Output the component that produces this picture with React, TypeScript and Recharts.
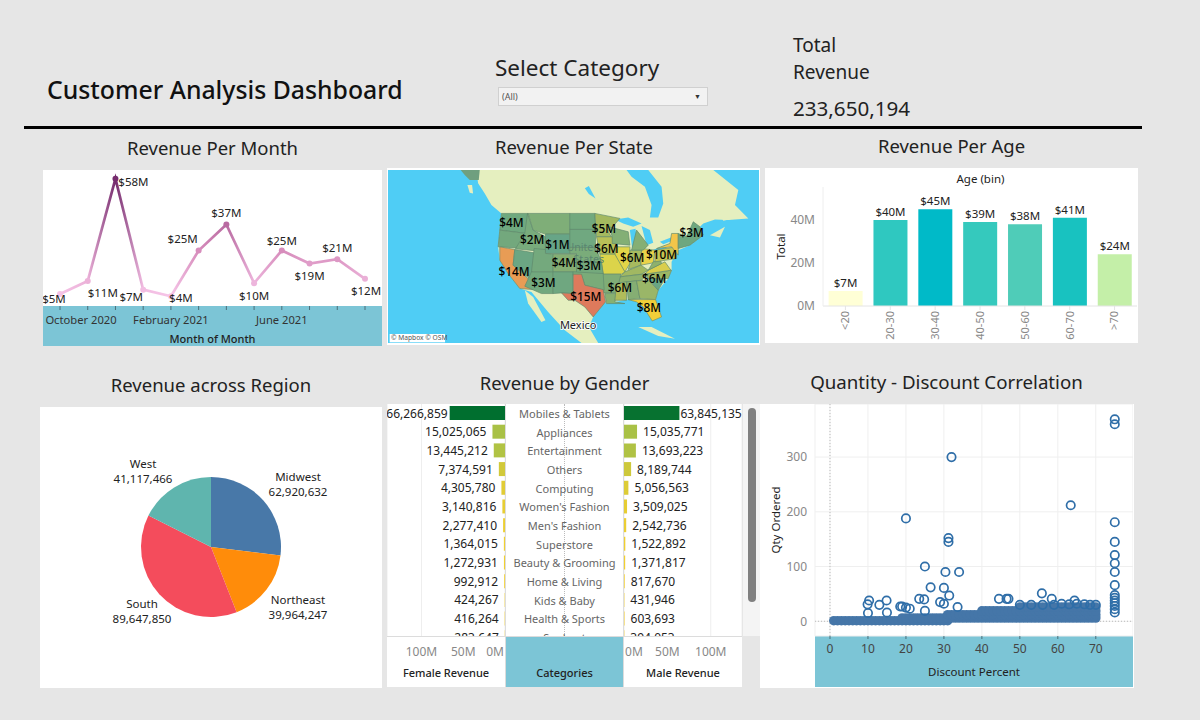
import {
  LineChart,
  Line,
  BarChart,
  Bar,
  PieChart,
  Pie,
  Cell,
  ScatterChart,
  Scatter,
  XAxis,
  YAxis,
  CartesianGrid,
  ReferenceLine,
  LabelList,
} from 'recharts'

const months = ['Oct 2020', 'Nov 2020', 'Dec 2020', 'Jan 2021', 'Feb 2021', 'Mar 2021', 'Apr 2021', 'May 2021', 'Jun 2021', 'Jul 2021', 'Aug 2021', 'Sep 2021']
const monthRevenue = [5, 11, 58, 7, 4, 25, 37, 10, 25, 19, 21, 12]
const monthTickLabels = ['October 2020', '', '', '', 'February 2021', '', '', '', 'June 2021', '', '', '']

const stateRevenue = [4, 2, 1, 5, 6, 6, 10, 3, 4, 3, 14, 3, 15, 6, 6, 8]
const stateLon = [-120.5, -114.3, -106.7, -92.8, -92, -84.3, -75.5, -66.5, -104.8, -97.3, -119.7, -110.9, -98.2, -88, -77.7, -79.3]
const stateLat = [47.5, 43.65, 42.6, 46.1, 41.65, 39.6, 40.3, 45.3, 38.5, 37.9, 36.5, 34.1, 31, 33.1, 35, 28.5]

const ageBins = ['<20', '20-30', '30-40', '40-50', '50-60', '60-70', '>70']
const ageRevenue = [7, 40, 45, 39, 38, 41, 24]
const ageTicks = [0, 20, 40]

const regions = ['Midwest', 'Northeast', 'South', 'West']
const regionRevenue = [62920632, 39964247, 89647850, 41117466]

const categories = ['Mobiles & Tablets', 'Appliances', 'Entertainment', 'Others', 'Computing', "Women's Fashion", "Men's Fashion", 'Superstore', 'Beauty & Grooming', 'Home & Living', 'Kids & Baby', 'Health & Sports', 'Soghaat']
const femaleRevenue = [66266859, 15025065, 13445212, 7374591, 4305780, 3140816, 2277410, 1364015, 1272931, 992912, 424267, 416264, 283647]
const maleRevenue = [63845135, 15035771, 13693223, 8189744, 5056563, 3509025, 2542736, 1522892, 1371817, 817670, 431946, 603693, 394053]
const genderTicks = [0, 50000000, 100000000]

// single orders that stand out from the pile
const outlierDiscount = [32, 20, 63.4, 75, 75, 75, 75, 75, 75, 75, 75, 75, 75, 75, 75, 75, 75, 75, 31.2, 31.2, 25, 30.4, 34, 26.5, 30, 31.4, 23.5, 24.8, 29, 30, 33.6, 25, 10.3, 9.9, 13, 14.9, 10, 15, 18.5, 19, 20, 21, 44.5, 46.5, 47, 55.8, 58.4, 64.4, 50, 53, 56, 59, 61, 63, 65, 67, 68.5, 70]
const outlierQty = [300, 188, 212, 369, 360, 181, 145, 121, 106, 90, 66, 48, 43, 38, 33, 28, 22, 16, 152, 145, 100, 90, 90, 62, 61, 47, 41, 40, 35, 32, 26, 19, 38, 31, 30, 38, 15, 16, 27, 27, 25, 23, 41, 41, 41, 51, 41, 38, 30, 30, 30, 30, 32, 31, 32, 31, 30, 30]

// the solid band along the bottom, where circles overlap completely
const denseDiscount = [
  1, 2, 3, 4, 5, 6, 7, 8, 9, 10, 11, 12, 13, 14, 15, 16, 17, 18, 19, 20, 21, 22, 23, 24, 25, 26, 27, 28, 29, 30, 31,
  19, 20, 21, 22, 23, 24, 25, 26, 27, 28, 29, 30, 31, 32, 33, 34, 35, 36, 37, 38, 39, 40, 41, 42, 43, 44, 45, 46, 47, 48, 49, 50, 51, 52, 53, 54, 55, 56, 57, 58, 59, 60, 61, 62, 63, 64, 65, 66, 67, 68, 69, 70,
  31, 32, 33, 34, 35, 36, 37, 38, 39, 40, 41, 42, 43, 44, 45, 46, 47, 48, 49, 50, 51, 52, 53, 54, 55, 56, 57, 58, 59, 60, 61, 62, 63, 64, 65, 66, 67, 68, 69, 70,
  40, 41, 42, 43, 44, 45, 46, 47, 48, 49, 50, 51, 52, 53, 54, 55, 56, 57, 58, 59, 60, 61, 62, 63, 64, 65, 66, 67, 68, 69, 70,
  50, 51, 52, 53, 54, 55, 56, 57, 58, 59, 60, 61, 62, 63, 64, 65, 66, 67, 68, 69, 70,
]
const denseQty = [
  1, 1, 1, 1, 1, 1, 1, 1, 1, 1, 1, 1, 1, 1, 1, 1, 1, 1, 1, 1, 1, 1, 1, 1, 1, 1, 1, 1, 1, 1, 1,
  6, 6, 6, 6, 6, 6, 6, 6, 6, 6, 6, 6, 6, 6, 6, 6, 6, 6, 6, 6, 6, 6, 6, 6, 6, 6, 6, 6, 6, 6, 6, 6, 6, 6, 6, 6, 6, 6, 6, 6, 6, 6, 6, 6, 6, 6, 6, 6, 6, 6, 6, 6,
  12, 12, 12, 12, 12, 12, 12, 12, 12, 12, 12, 12, 12, 12, 12, 12, 12, 12, 12, 12, 12, 12, 12, 12, 12, 12, 12, 12, 12, 12, 12, 12, 12, 12, 12, 12, 12, 12, 12, 12,
  19, 19, 19, 19, 19, 19, 19, 19, 19, 19, 19, 19, 19, 19, 19, 19, 19, 19, 19, 19, 19, 19, 19, 19, 19, 19, 19, 19, 19, 19, 19,
  26, 26, 26, 26, 26, 26, 26, 26, 26, 26, 26, 26, 26, 26, 26, 26, 26, 26, 26, 26, 26,
]
const discountTicks = [0, 10, 20, 30, 40, 50, 60, 70]
const qtyTicks = [0, 100, 200, 300]

const monthData = months.map((m, i) => ({ month: m, revenue: monthRevenue[i], tick: monthTickLabels[i] }))
const stateData = stateRevenue.map((r, i) => ({ lon: stateLon[i], lat: stateLat[i], revenue: r }))
const ageData = ageBins.map((b, i) => ({ bin: b, revenue: ageRevenue[i] }))
const regionData = regions.map((r, i) => ({ name: r, value: regionRevenue[i] }))
const genderData = categories.map((c, i) => ({ category: c, female: femaleRevenue[i], male: maleRevenue[i] }))
const outlierData = outlierDiscount.map((d, i) => ({ discount: d, qty: outlierQty[i] }))
const denseData = denseDiscount.map((d, i) => ({ discount: d, qty: denseQty[i] }))

const BAND = '#7cc5d6'
const INK = '#222'
const TICK = '#888'
const REGION_COLORS = ['#4878a8', '#ff8c0a', '#f44c5c', '#5fb5ae']
const AGE_COLORS = ['#ffffd6', '#2fc8c0', '#00bac8', '#35c9bd', '#4fccb8', '#18c2c0', '#c4efa8']
const PIE_LABEL_DELTA = [[87, -63], [87, 60], [-69, 64], [-68, -76]]

function mix(stops: [number, string][], v: number) {
  let i = 0
  while (i < stops.length - 2 && v > stops[i + 1][0]) i++
  const [a, ca] = stops[i]
  const [b, cb] = stops[i + 1]
  const t = Math.max(0, Math.min(1, (v - a) / (b - a)))
  const ch = (c: string, k: number) => parseInt(c.slice(k, k + 2), 16)
  const out = [1, 3, 5].map((k) => Math.round(ch(ca, k) + (ch(cb, k) - ch(ca, k)) * t))
  return `rgb(${out.join(',')})`
}
const monthColor = (v: number) => mix([[4, '#f6c5e8'], [30, '#cf80b2'], [58, '#762c6e']], v)
const genderColor = (v: number) => mix([[0, '#f8d12f'], [15000000, '#a9c146'], [66000000, '#006f2f']], v)

// basemap outlines, traced in pixels of a 3x crop of the map
const LAND = '275,120 985,120 1060,180 1050,225 1090,265 1030,270 990,268 955,280 945,290 955,315 915,345 880,360 860,395 860,420 850,445 820,480 812,508 830,560 802,572 775,530 755,515 730,508 665,520 662,515 625,560 612,590 640,638 590,638 540,600 490,545 440,485 405,475 370,430 345,390 340,350 345,300 350,250 320,225 300,190 280,160'
const WATER = [
  '725,120 790,120 830,170 835,220 820,262 795,262 800,225 780,170 740,140',
  '600,175 612,168 632,205 612,192',
  '690,268 730,262 770,280 745,290 715,280',
  '735,300 752,296 758,345 742,355',
  '770,288 795,300 805,338 785,345',
  '790,365 840,345 850,348 810,372',
  '825,335 868,318 872,328 835,342',
]
const EXTRA_LAND = [
  '420,480 445,500 482,570 470,575 430,520',
  '975,315 1020,290 1005,322',
  '1000,245 1045,240 1060,262 1015,272',
  '760,590 800,590 870,625 820,617',
  '248,165 262,165 265,190 255,188',
]
const STATE_GREEN = '#6fa97f'
const STATES: [string, string][] = [
  ['350,250 430,250 425,310 345,300', STATE_GREEN],
  ['345,300 425,310 420,355 340,350', '#73a87d'],
  ['428,250 445,300 482,320 482,365 392,356 420,310', '#78ab7c'],
  ['430,250 555,250 555,312 482,312 445,300', '#7fae78'],
  ['482,312 555,312 555,370 482,370', '#67a587'],
  ['555,250 630,250 632,298 555,298', '#72a97e'],
  ['555,298 632,298 632,352 555,352', '#70a880'],
  ['555,352 632,352 650,395 575,395 575,370 555,370', '#7aac7a'],
  ['630,250 705,265 670,305 680,320 635,320', '#a4b95f'],
  ['635,320 682,320 700,352 690,372 645,372', '#b8c057'],
  ['672,290 730,305 735,345 682,340 682,320', '#83af75'],
  ['695,350 735,350 735,400 720,425 700,395 690,372', '#e2d548'],
  ['645,372 690,372 720,425 710,432 655,432', '#dcd44a'],
  ['735,360 770,360 768,405 730,418 735,400', '#a7ba5f'],
  ['770,355 810,360 805,398 768,405', '#ead34a'],
  ['755,300 790,345 775,360 740,360', '#85af74'],
  ['720,425 768,405 790,420 770,432 705,440', '#a1b862'],
  ['705,440 790,430 770,450 700,458', '#8eb16e'],
  ['650,432 708,432 695,488 655,488', '#80ad76'],
  ['660,490 695,490 690,515 720,520 665,520', '#88b071'],
  ['695,460 725,455 725,510 690,510', '#b1bc5a'],
  ['725,455 755,452 765,505 730,508', '#85ae73'],
  ['755,452 790,450 820,480 812,508 765,505', '#9ab668'],
  ['730,508 812,508 830,560 802,572 775,530 755,515', '#f1cf39'],
  ['790,445 840,445 820,480', '#69a684'],
  ['780,432 860,420 850,445 790,445', '#9cb664'],
  ['790,420 840,395 858,420 780,432', '#d9ce4c'],
  ['805,395 825,385 830,400 790,420', '#8fb16c'],
  ['810,360 875,350 875,385 810,395', '#c6c452'],
  ['815,355 855,340 860,310 880,310 880,375 860,350', '#f3c54a'],
  ['880,310 905,320 925,275 945,290 955,315 915,345 880,355', '#6ea77f'],
  ['345,350 390,358 385,405 440,455 445,478 405,475 370,430 345,390', '#e89c55'],
  ['390,358 448,368 440,450 385,405', '#6ba683'],
  ['448,355 482,358 482,370 505,372 505,425 440,425', '#74a97d'],
  ['440,425 505,425 505,490 470,490 420,468', '#72a87e'],
  ['505,372 575,372 575,425 505,425', '#85ae73'],
  ['505,425 565,425 565,490 530,488 505,490', '#6fa780'],
  ['575,395 650,395 655,430 575,430', '#74a97c'],
  ['565,425 655,430 658,480 600,465 590,435 565,435', '#7aab79'],
  ['565,432 590,432 600,465 655,478 662,515 625,560 600,530 570,510 550,510 530,488 565,490', '#de7a5c'],
]

function Basemap() {
  return (
    <svg viewBox="10 120 1112 518" width={371} height={173} style={{ position: 'absolute', left: 388, top: 170 }} preserveAspectRatio="none">
      <rect x={10} y={120} width={1112} height={518} fill="#4fcdf5" />
      <polygon points={LAND} fill="#e5efbf" />
      {EXTRA_LAND.map((p) => <polygon key={p} points={p} fill="#e5efbf" />)}
      {WATER.map((p) => <polygon key={p} points={p} fill="#4fcdf5" />)}
      <polygon points="228,120 285,120 282,150 255,150 240,135" fill="#6f9f7f" />
      {STATES.map(([p, c]) => <polygon key={p} points={p} fill={c} stroke="#5f8a6c" strokeWidth={2} />)}
      <text x={595} y={362} textAnchor="middle" fontSize={32} fill="#5a8570">United</text>
      <text x={612} y={398} textAnchor="middle" fontSize={32} fill="#5a8570">States</text>
      <text x={580} y={596} textAnchor="middle" fontSize={33} fill="#222" stroke="#fff" strokeWidth={5} paintOrder="stroke">Mexico</text>
      <rect x={15} y={611} width={166} height={25} fill="#fff" />
      <text x={19} y={630} fontSize={20} fill="#555">© Mapbox © OSM</text>
    </svg>
  )
}

function Label({ x, y, w, size, weight, color, align, children }: any) {
  return (
    <div style={{ position: 'absolute', left: x, top: y, width: w, fontSize: size, fontWeight: weight ?? 400, color: color ?? INK, textAlign: align ?? 'left', lineHeight: 1, whiteSpace: 'nowrap' }}>
      {children}
    </div>
  )
}

function Box({ x, y, w, h, bg }: any) {
  return <div style={{ position: 'absolute', left: x, top: y, width: w, height: h, background: bg ?? '#fff' }} />
}

function Place({ x, y, children }: any) {
  return <div style={{ position: 'absolute', left: x, top: y }}>{children}</div>
}

function RotatedLabel({ viewBox, value, left, size }: any) {
  const cx = viewBox.x + left
  const cy = viewBox.y + viewBox.height / 2
  return <text x={cx} y={cy} transform={`rotate(-90 ${cx} ${cy})`} textAnchor="middle" dominantBaseline="central" fontSize={size} fill={INK}>{value}</text>
}

function MonthTick({ x, y, index }: any) {
  const t = monthData[index]?.tick ?? ''
  const shift = index === 0 ? 21 : 0
  return (
    <g>
      <line x1={x} x2={x} y1={y - 8} y2={y - 4} stroke="#4a6f7a" />
      <text x={x + shift} y={y + 10} textAnchor="middle" fontSize={11.2} fill="#333">{t}</text>
    </g>
  )
}

// labels sit off the line on whichever side is clear in the reference
const MONTH_LABEL_DELTA = [[-6, 4], [15, 12], [18, 3], [-12, 7], [10, 1], [-16, -12], [0, -12], [0, 12], [0, -10], [0, 12], [0, -12], [1, 12]]

function MonthLabel({ x, y, index, value }: any) {
  const [dx, dy] = MONTH_LABEL_DELTA[index]
  return <text x={x + dx} y={y + dy} textAnchor="middle" dominantBaseline="central" fontSize={11.5} fill={INK}>${value}M</text>
}

function MonthDot({ cx, cy, payload }: any) {
  return <circle cx={cx} cy={cy} r={3} fill={monthColor(payload.revenue)} />
}

function RevenuePerMonth() {
  return (
    <LineChart width={339} height={176} data={monthData} margin={{ top: 0, right: 0, bottom: 0, left: 0 }}>
      <defs>
        <linearGradient id="monthStroke" x1="0" x2="1" y1="0" y2="0">
          {monthRevenue.map((v, i) => (
            <stop key={i} offset={i / (monthRevenue.length - 1)} stopColor={monthColor(v)} />
          ))}
        </linearGradient>
      </defs>
      <XAxis dataKey="month" scale="point" padding={{ left: 17, right: 17 }} height={40} axisLine={false} tickLine={false} interval={0} tick={<MonthTick />}
        label={{ value: 'Month of Month', position: 'insideBottom', offset: 3, fontSize: 11, fontWeight: 500, fill: '#222' }} />
      <YAxis hide domain={[-0.5, 62]} />
      <Line dataKey="revenue" stroke="url(#monthStroke)" strokeWidth={2.7} dot={<MonthDot />} isAnimationActive={false}>
        <LabelList dataKey="revenue" content={<MonthLabel />} />
      </Line>
    </LineChart>
  )
}

function StateLabel({ cx, cy, payload }: any) {
  return <text x={cx} y={cy} textAnchor="middle" dominantBaseline="central" fontSize={11.8} fontWeight={500} fill="#000">${payload.revenue}M</text>
}

function RevenuePerState() {
  return (
    <ScatterChart width={371} height={173} margin={{ top: 0, right: 0, bottom: 0, left: 0 }}>
      <XAxis hide type="number" dataKey="lon" domain={[-157.5, -46.3]} />
      <YAxis hide type="number" dataKey="lat" domain={[20.61, 58.98]} />
      <Scatter data={stateData} shape={<StateLabel />} isAnimationActive={false} />
    </ScatterChart>
  )
}

function RevenuePerAge() {
  return (
    <BarChart width={373} height={175} data={ageData} margin={{ top: 19, right: 1, bottom: 0, left: 0 }} barCategoryGap="12.5%">
      <XAxis dataKey="bin" height={37} interval={0} stroke="#e4e4e4" tickSize={4} tickMargin={1} tick={{ fontSize: 11, fill: TICK }} angle={-90} textAnchor="end" dx={-4} />
      <YAxis width={58} domain={[0, 55.3]} ticks={ageTicks} stroke="#eeeeee" tickLine={false} tick={{ fontSize: 12, fill: TICK }} tickFormatter={(v) => `${v}M`}
        label={<RotatedLabel value="Total" left={15} size={11.5} />} />
      <Bar dataKey="revenue" isAnimationActive={false}>
        {ageData.map((_, i) => <Cell key={i} fill={AGE_COLORS[i]} />)}
        <LabelList dataKey="revenue" position="top" offset={4} fontSize={11.5} fill={INK} formatter={(v: any) => `$${v}M`} />
      </Bar>
    </BarChart>
  )
}

function RegionLabel({ cx, cy, index, name, value }: any) {
  const [dx, dy] = PIE_LABEL_DELTA[index]
  return (
    <text x={cx + dx} y={cy + dy} textAnchor="middle" fontSize={11.5} fill={INK}>
      <tspan x={cx + dx} dy={-3}>{name}</tspan>
      <tspan x={cx + dx} dy={15}>{value.toLocaleString('en-US')}</tspan>
    </text>
  )
}

function RevenueByRegion() {
  return (
    <PieChart width={342} height={281} margin={{ top: 0, right: 0, bottom: 0, left: 0 }}>
      <Pie data={regionData} dataKey="value" nameKey="name" cx={171} cy={140} outerRadius={70} startAngle={90} endAngle={-270} stroke="none" label={<RegionLabel />} labelLine={false} isAnimationActive={false}>
        {regionData.map((_, i) => <Cell key={i} fill={REGION_COLORS[i]} />)}
      </Pie>
    </PieChart>
  )
}

function CategoryTick({ x, y, payload }: any) {
  return <text x={x - 119 / 2} y={y} textAnchor="middle" dominantBaseline="central" fontSize={11} fill="#666">{payload.value}</text>
}

// the longest bars squeeze their label against the panel edge
const labelGap = (v: number, tight: number) => (v > 50000000 ? tight : 6)

function FemaleValue({ x, y, width, height, value }: any) {
  const left = Math.min(x, x + width)
  return <text x={left - labelGap(value, 2)} y={y + height / 2} textAnchor="end" dominantBaseline="central" fontSize={12} fill={INK}>{value.toLocaleString('en-US')}</text>
}

function MaleValue({ x, y, width, height, value }: any) {
  return <text x={x + width + labelGap(value, 1)} y={y + height / 2} textAnchor="start" dominantBaseline="central" fontSize={12} fill={INK}>{value.toLocaleString('en-US')}</text>
}

function GenderAxisTick({ x, y, payload, side }: any) {
  const zero = payload.value === 0
  const anchor = !zero ? 'middle' : side === 'left' ? 'end' : 'start'
  const px = !zero ? x : side === 'left' ? x - 1 : x + 1
  return <text x={px} y={y + 10} textAnchor={anchor} fontSize={12} fill={TICK}>{payload.value / 1000000}M</text>
}

function FemaleBars() {
  return (
    <BarChart width={118} height={243} data={genderData} layout="vertical" margin={{ top: 0, right: 0, bottom: 0, left: 0 }}>
      <CartesianGrid horizontal={false} stroke="#eeeeee" />
      <XAxis type="number" hide reversed domain={[0, 141300000]} ticks={genderTicks} />
      <YAxis type="category" dataKey="category" hide />
      <Bar dataKey="female" barSize={14} isAnimationActive={false}>
        {genderData.map((d) => <Cell key={d.category} fill={genderColor(d.female)} />)}
        <LabelList dataKey="female" content={<FemaleValue />} />
      </Bar>
    </BarChart>
  )
}

function MaleBars() {
  return (
    <BarChart width={237} height={243} data={genderData} layout="vertical" margin={{ top: 0, right: 0, bottom: 0, left: 0 }}>
      <CartesianGrid horizontal={false} stroke="#eeeeee" />
      <XAxis type="number" hide domain={[0, 136000000]} ticks={genderTicks} />
      <YAxis type="category" dataKey="category" width={119} axisLine={false} tickLine={false} tickSize={0} tickMargin={0} interval={0} tick={<CategoryTick />} />
      <Bar dataKey="male" barSize={14} isAnimationActive={false}>
        {genderData.map((d) => <Cell key={d.category} fill={genderColor(d.male)} />)}
        <LabelList dataKey="male" content={<MaleValue />} />
      </Bar>
    </BarChart>
  )
}

function GenderAxis({ side, title, max }: any) {
  return (
    <BarChart width={118} height={53} data={genderData} layout="vertical" margin={{ top: 0, right: 0, bottom: 0, left: 0 }}>
      <XAxis type="number" height={51} reversed={side === 'left'} domain={[0, max]} ticks={genderTicks} axisLine={false} tickLine={false} interval={0} tick={<GenderAxisTick side={side} />}
        label={{ value: title, position: 'insideBottom', offset: 12, fontSize: 11, fontWeight: 500, fill: '#222' }} />
      <YAxis type="category" dataKey="category" hide />
      <Bar dataKey={side === 'left' ? 'female' : 'male'} fillOpacity={0} isAnimationActive={false} />
    </BarChart>
  )
}

function OutlierDot({ cx, cy }: any) {
  return <circle cx={cx} cy={cy} r={4.2} fill="none" stroke="#2f6ea8" strokeWidth={1.7} />
}

function DenseDot({ cx, cy }: any) {
  return <circle cx={cx} cy={cy} r={4.8} fill="#4576a8" />
}

function QuantityDiscount() {
  return (
    <ScatterChart width={373} height={284} margin={{ top: 0, right: 0, bottom: 0, left: 0 }}>
      <CartesianGrid stroke="#efefef" />
      <XAxis type="number" dataKey="discount" height={52} domain={[-3.95, 79.8]} ticks={discountTicks} allowDataOverflow interval={0} axisLine={false} tickSize={3} tickMargin={5} stroke="#4a6f7a" tick={{ fontSize: 12, fill: '#444' }}
        label={{ value: 'Discount Percent', position: 'insideBottom', offset: 12, fontSize: 11.5, fill: '#222' }} />
      <YAxis type="number" dataKey="qty" width={55} domain={[-26.9, 397]} ticks={qtyTicks} allowDataOverflow interval={0} axisLine={false} tickLine={false} tick={{ fontSize: 12, fill: TICK }}
        label={<RotatedLabel value="Qty Ordered" left={15} size={11.5} />} />
      <ReferenceLine x={0} stroke="#bbb" strokeDasharray="1 2" />
      <ReferenceLine y={0} stroke="#bbb" strokeDasharray="1 2" />
      <Scatter data={denseData} shape={<DenseDot />} isAnimationActive={false} />
      <Scatter data={outlierData} shape={<OutlierDot />} isAnimationActive={false} />
    </ScatterChart>
  )
}

export default function App() {
  return (
    <div style={{ position: 'absolute', left: 0, top: 0, width: 1200, height: 720, background: '#e6e6e6', fontFamily: '"Noto Sans", sans-serif', overflow: 'hidden' }}>
      <Label x={47} y={77} size={24.8} weight={500} color="#111">Customer Analysis Dashboard</Label>
      <Label x={495} y={57} size={22.5}>Select Category</Label>
      <div style={{ position: 'absolute', left: 498, top: 87, width: 205, height: 17, background: '#f2f2f2', border: '1px solid #d0d0d0', fontSize: 9, color: '#555', lineHeight: '17px', paddingLeft: 3, boxSizing: 'content-box' }}>
        (All)
        <span style={{ position: 'absolute', right: 6, top: 0, fontSize: 7, color: '#333' }}>▼</span>
      </div>
      <Label x={793} y={36} size={19}>Total</Label>
      <Label x={793} y={63} size={19}>Revenue</Label>
      <Label x={793} y={98} size={20.6}>233,650,194</Label>
      <Box x={24} y={126} w={1118} h={3} bg="#000" />

      <Label x={43} y={139} w={339} size={18.5} align="center">Revenue Per Month</Label>
      <Label x={388} y={138} w={372} size={18.5} align="center">Revenue Per State</Label>
      <Label x={765} y={137} w={373} size={18.5} align="center">Revenue Per Age</Label>
      <Label x={40} y={376} w={342} size={18.5} align="center">Revenue across Region</Label>
      <Label x={387} y={374} w={355} size={18.5} align="center">Revenue by Gender</Label>
      <Label x={760} y={373} w={373} size={18.7} align="center">Quantity - Discount Correlation</Label>

      <Box x={43} y={170} w={339} h={176} />
      <Box x={43} y={306} w={339} h={40} bg={BAND} />
      <Place x={43} y={170}><RevenuePerMonth /></Place>

      <Box x={387} y={168} w={373} h={177} />
      <Basemap />
      <Place x={388} y={170}><RevenuePerState /></Place>

      <Box x={765} y={168} w={373} h={175} />
      <Place x={765} y={168}><RevenuePerAge /></Place>
      <Label x={765 + 58} y={173} w={315} size={11.5} align="center">Age (bin)</Label>

      <Box x={40} y={407} w={342} h={281} />
      <Place x={40} y={407}><RevenueByRegion /></Place>

      <Box x={387} y={404} w={355} h={283} />
      <Box x={743} y={404} w={17} h={232} bg="#f4f4f4" />
      <div style={{ position: 'absolute', left: 748, top: 408, width: 8, height: 194, borderRadius: 4, background: '#808080' }} />
      <div style={{ position: 'absolute', left: 564, top: 404, height: 232, borderLeft: '1px dotted #bbb' }} />
      <div style={{ position: 'absolute', left: 387, top: 404, width: 355, height: 232, overflow: 'hidden' }}>
        <Place x={0} y={0.4}><FemaleBars /></Place>
        <Place x={118} y={0.4}><MaleBars /></Place>
      </div>
      <Box x={505} y={637} w={119} h={50} bg={BAND} />
      <Label x={505} y={667} w={119} size={11} weight={500} align="center">Categories</Label>
      <Box x={505} y={404} w={1} h={283} bg="#dcdcdc" />
      <Box x={623} y={404} w={1} h={283} bg="#dcdcdc" />
      <Box x={387} y={636} w={355} h={1} bg="#dcdcdc" />
      <Place x={387} y={636}><GenderAxis side="left" title="Female Revenue" max={141300000} /></Place>
      <Place x={624} y={636}><GenderAxis side="right" title="Male Revenue" max={136000000} /></Place>

      <Box x={760} y={404} w={374} h={284} />
      <Box x={815} y={636} w={318} h={51} bg={BAND} />
      <Place x={760} y={404}><QuantityDiscount /></Place>
    </div>
  )
}
